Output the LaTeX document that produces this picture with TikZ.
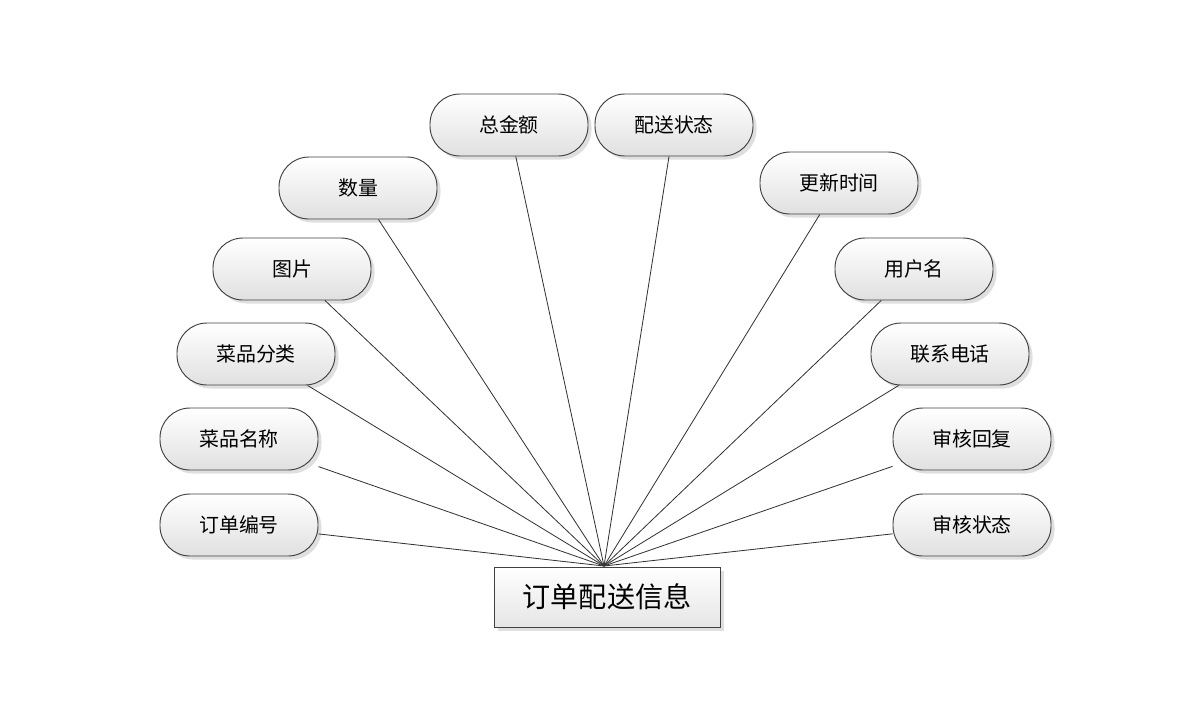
\documentclass[tikz,border=0pt]{standalone}
\usepackage{fontspec}
\newfontfamily\cjk{Noto Sans CJK SC}
\usetikzlibrary{shadows}
\begin{document}
\begin{tikzpicture}[x=0.03cm,y=-0.03cm,
  attr/.style={draw=black!75,line width=0.8pt,rounded corners=0.9cm,minimum width=4.74cm,minimum height=1.86cm,
    top color=white,bottom color=black!12,drop shadow={shadow xshift=3pt,shadow yshift=-3pt,fill=black!25},font=\cjk\fontsize{17}{20}\selectfont},
  ent/.style={draw=black!75,line width=0.8pt,minimum width=6.78cm,minimum height=1.8cm,
    top color=white,bottom color=black!10,drop shadow={shadow xshift=3pt,shadow yshift=-3pt,fill=black!25},font=\cjk\fontsize{24}{28}\selectfont},
  link/.style={draw=black!80,line width=0.7pt}]
\useasboundingbox (0,0) rectangle (1182,720);
\coordinate (hub) at (604,566);
\node[attr] (a1) at (509,125) {总金额};
\node[attr] (a2) at (674,125) {配送状态};
\node[attr] (a3) at (358,188) {数量};
\node[attr] (a4) at (839,183) {更新时间};
\node[attr] (a5) at (292,269) {图片};
\node[attr] (a6) at (914,269) {用户名};
\node[attr] (a7) at (256,354) {菜品分类};
\node[attr] (a8) at (950,354) {联系电话};
\node[attr] (a9) at (239,439) {菜品名称};
\node[attr] (a10) at (972,439) {审核回复};
\node[attr] (a11) at (239,525) {订单编号};
\node[attr] (a12) at (972,525) {审核状态};
\foreach \i in {1,...,12} \draw[link] (a\i) -- (hub);
\node[ent] (e) at (607,597) {订单配送信息};
\end{tikzpicture}
\end{document}
